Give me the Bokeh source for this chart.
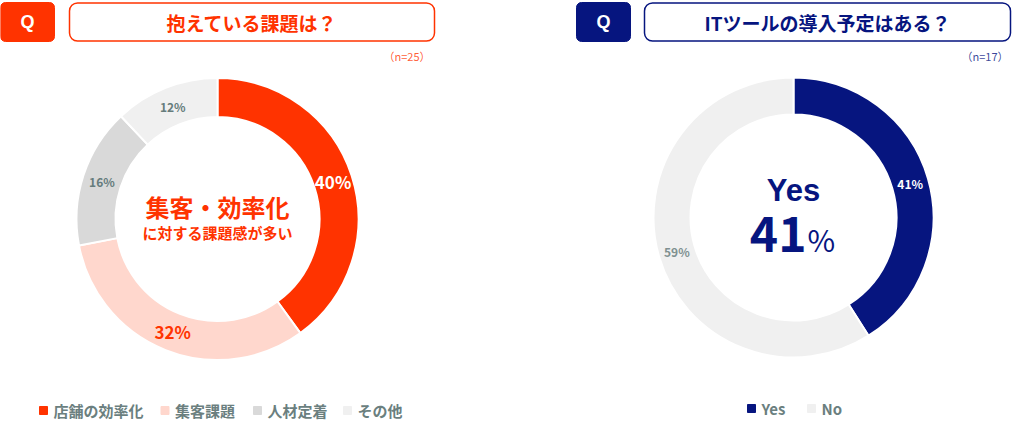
import numpy as np
from bokeh.plotting import figure
from bokeh.models import Range1d, ColumnDataSource
from bokeh.core.properties import value
from bokeh.embed import file_html
from bokeh.resources import INLINE

# ---------------- data ----------------
issue_title = "抱えている課題は？"
issue_n = "（n=25）"
issue_labels = ["店舗の効率化", "集客課題", "人材定着", "その他"]
issue_values = [40, 32, 16, 12]
issue_colors = ["#FF3300", "#FFD7CD", "#D9D9D9", "#F0F0F0"]
issue_text_colors = ["#FFFFFF", "#FF3300", "#667C7C", "#667C7C"]
issue_text_sizes = ["17px", "17px", "12px", "12px"]
issue_center_main = "集客・効率化"
issue_center_sub = "に対する課題感が多い"

plan_title = "ITツールの導入予定はある？"
plan_n = "（n=17）"
plan_labels = ["Yes", "No"]
plan_values = [41, 59]
plan_colors = ["#06157F", "#F0F0F0"]
plan_text_colors = ["#FFFFFF", "#7F9090"]
plan_text_sizes = ["12px", "12px"]

RED = "#FF3300"
NAVY = "#06157F"
LEGEND_GRAY = "#6B7F7F"
FONT = value("Noto Sans CJK JP")

W, HT = 1016, 425
H = 433  # data y = H - pixel y

p = figure(width=W, height=HT, output_backend="svg", toolbar_location=None,
           x_range=Range1d(0, W), y_range=Range1d(H - HT, H),
           x_axis_type=None, y_axis_type=None, min_border=0)
p.grid.visible = False
p.outline_line_color = None
p.background_fill_color = "white"


def Y(py):
    return H - py


def donut(cx, cy, values, colors, tcolors, tsizes, r_in, r_out):
    vals = np.array(values, dtype=float)
    frac = vals / vals.sum()
    cum = np.concatenate([[0.0], np.cumsum(frac)[:-1]])
    start = np.pi / 2 - 2 * np.pi * cum
    end = start - 2 * np.pi * frac
    mid = (start + end) / 2
    rm = (r_in + r_out) / 2
    src = ColumnDataSource(dict(
        x=[cx] * len(vals), y=[Y(cy)] * len(vals),
        start=start, end=end, color=colors,
        lx=cx + rm * np.cos(mid), ly=Y(cy) + rm * np.sin(mid),
        txt=[f"{int(v)}%" for v in values], tcolor=tcolors, tsize=tsizes))
    p.annular_wedge(x="x", y="y", inner_radius=r_in, outer_radius=r_out,
                    start_angle="start", end_angle="end", direction="clock",
                    fill_color="color", line_color="white", line_width=2, source=src)
    p.text(x="lx", y="ly", text="txt", text_color="tcolor", text_font_size="tsize",
           text_font=FONT, text_font_style="bold", text_align="center",
           text_baseline="middle", source=src)


def header(qx0, qx1, bx0, bx1, color, title, ntext, nx):
    p.quad(left=[qx0], right=[qx1], top=[Y(2)], bottom=[Y(41)], fill_color=color,
           line_color=color, border_radius=5)
    p.text(x=[(qx0 + qx1) / 2], y=[Y(21.5)], text=["Q"], text_color="white",
           text_font=value("Liberation Sans"), text_font_size="18px",
           text_font_style="bold", text_align="center", text_baseline="middle")
    p.quad(left=[bx0], right=[bx1], top=[Y(2.5)], bottom=[Y(40.5)], fill_color="white",
           line_color=color, line_width=1.5, border_radius=8)
    p.text(x=[(bx0 + bx1) / 2], y=[Y(21.5)], text=[title], text_color=color,
           text_font=FONT, text_font_size="19px", text_font_style="bold",
           text_align="center", text_baseline="middle")
    p.text(x=[nx], y=[Y(55)], text=[ntext], text_color=color, text_alpha=0.8,
           text_font=FONT, text_font_size="11px", text_align="right",
           text_baseline="middle")


def legend(labels, colors, sq_x, py):
    src = ColumnDataSource(dict(x=sq_x, y=[Y(py)] * len(labels), c=colors,
                                tx=[x + 10 for x in sq_x], t=labels))
    p.scatter(x="x", y="y", marker="square", size=8, fill_color="c", line_color="c",
              source=src)
    p.text(x="tx", y="y", text="t", text_color=LEGEND_GRAY, text_font=FONT,
           text_font_size="15px", text_font_style="bold", text_align="left",
           text_baseline="middle", source=src)


# ---------------- left panel ----------------
header(0, 54, 69, 434, RED, issue_title, issue_n, 430)
donut(217, 218.5, issue_values, issue_colors, issue_text_colors, issue_text_sizes, 102, 141)
p.text(x=[217], y=[Y(206)], text=[issue_center_main], text_color=RED, text_font=FONT,
       text_font_size="24px", text_font_style="bold", text_align="center",
       text_baseline="middle")
p.text(x=[217], y=[Y(232)], text=[issue_center_sub], text_color=RED, text_font=FONT,
       text_font_size="15px", text_font_style="bold", text_align="center",
       text_baseline="middle")
legend(issue_labels, issue_colors, [43, 164.5, 257, 347], 410)

# ---------------- right panel ----------------
header(576, 630, 644, 1010, NAVY, plan_title, plan_n, 1008)
donut(793, 217, plan_values, plan_colors, plan_text_colors, plan_text_sizes, 103, 140)
p.text(x=[793], y=[Y(190)], text=[plan_labels[0]], text_color=NAVY,
       text_font=value("Liberation Sans"), text_font_size="31px", text_font_style="bold",
       text_align="center", text_baseline="middle")
p.text(x=[806], y=[Y(233)], text=[str(plan_values[0])], text_color=NAVY, text_font=FONT,
       text_font_size="48px", text_font_style="bold", text_align="right",
       text_baseline="middle")
p.text(x=[807], y=[Y(238)], text=["%"], text_color=NAVY, text_font=FONT,
       text_font_size="30px", text_align="left", text_baseline="middle")
legend(plan_labels, plan_colors, [751, 811], 408)

open("out.html", "w").write(file_html(p, INLINE))
